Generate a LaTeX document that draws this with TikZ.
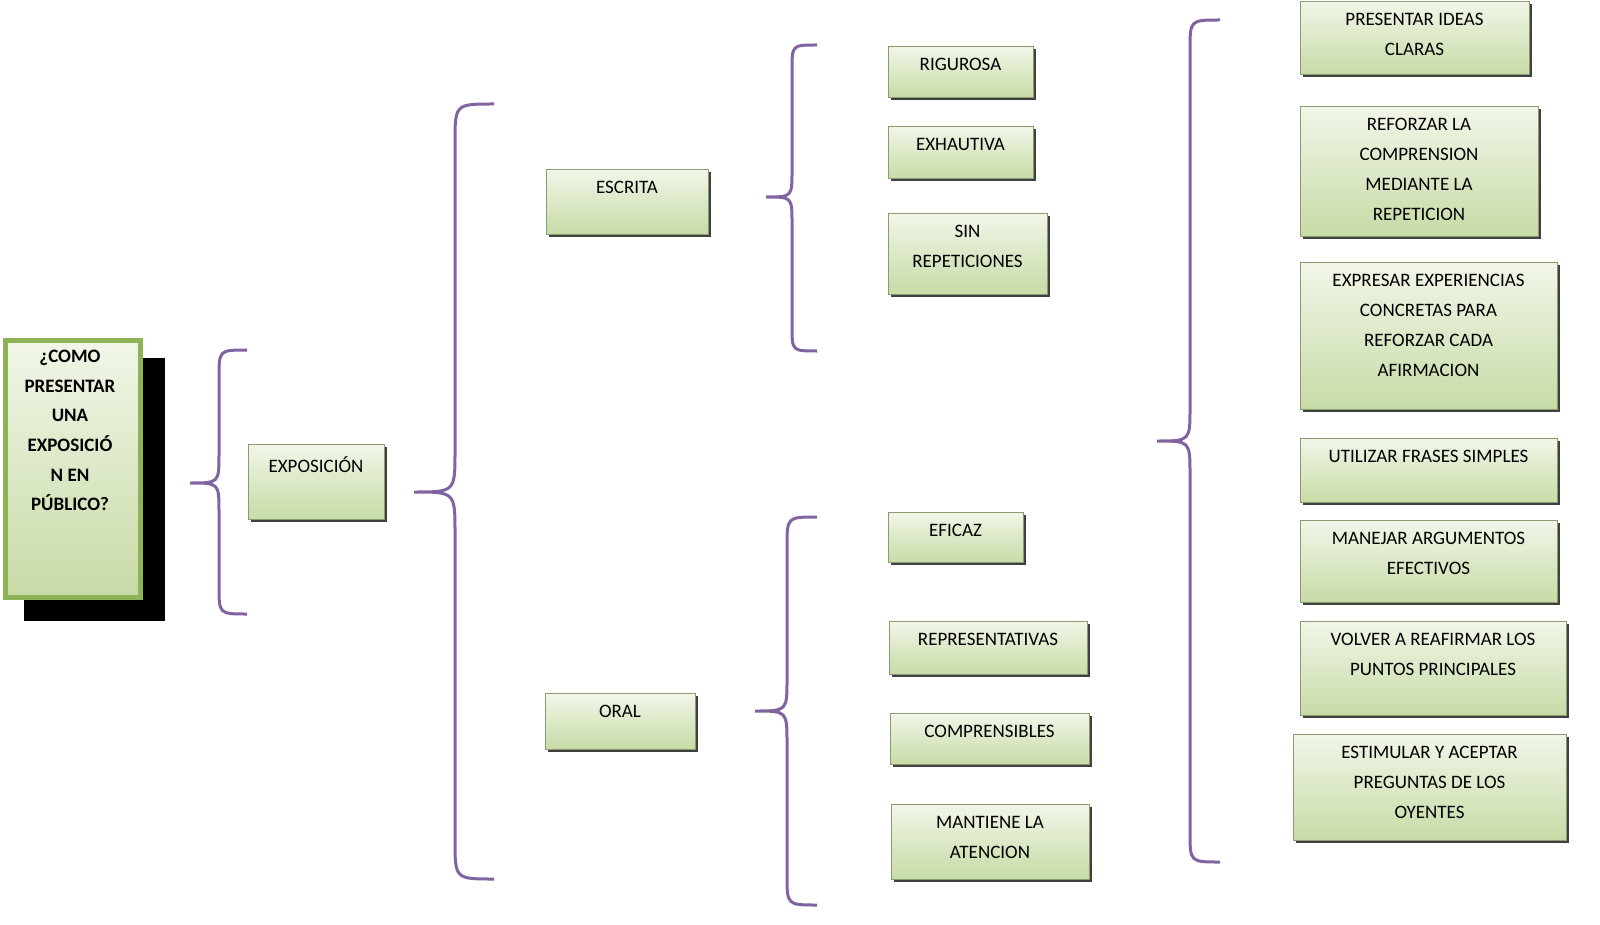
\documentclass[tikz,border=0pt]{standalone}
\usepackage{fontspec}
\setmainfont{Carlito}
\usetikzlibrary{shadows}
\definecolor{bpurple}{HTML}{8064A2}
\definecolor{gtop}{HTML}{F1F6E8}
\definecolor{gbot}{HTML}{C7DBA6}
\definecolor{gline}{HTML}{8A9A72}
\definecolor{mgreen}{HTML}{8DB356}
\tikzset{
 box/.style={draw=gline, line width=0.8pt, top color=gtop, bottom color=gbot, inner sep=0pt, anchor=north west,
   drop shadow={shadow xshift=2.5pt, shadow yshift=-2.5pt, fill=black!75, opacity=1}},
 txt/.style={anchor=north, align=center, inner sep=0pt, font=\fontsize{19}{30}\selectfont},
 brc/.style={draw=bpurple, line width=3pt}
}
\newcommand\bx[6]{% name, x1,y1,x2,y2, text
 \node[box, minimum width={#4-#2}, minimum height={#5-#3}] (#1) at (#2,#3) {};
 \node[txt] (#1t) at ({(#2+#4)/2},{#3+12}) {#6};}
\newcommand\mybrace[6]{% tipx, linex, pointx, top, mid, bottom
 \draw[brc] (#1,#4) .. controls (#2,#4) .. (#2,{#4+#1-#2}) -- (#2,{#5-(#2-#3)}) .. controls (#2,#5) .. (#3,#5)
   .. controls (#2,#5) .. (#2,{#5+(#2-#3)}) -- (#2,{#6-(#1-#2)}) .. controls (#2,#6) .. (#1,#6);}
\begin{document}
\begin{tikzpicture}[x=1pt,y=-1pt]
% main
\fill[black] (24,358) rectangle (165,621);
\node[draw=mgreen, line width=5pt, top color=gtop, bottom color=gbot, minimum width=135pt, minimum height=257pt, anchor=north west, inner sep=0pt] (main) at (2.5,337.5) {};
\node[txt, font=\bfseries\fontsize{19}{29.6}\selectfont] (maint) at (70,350) {¿COMO\\PRESENTAR\\UNA\\EXPOSICIÓ\\N EN\\PÚBLICO?};
\bx{expo}{248}{444}{384}{519}{EXPOSICIÓN}
\bx{escr}{546}{169}{708}{234}{ESCRITA}
\bx{oral}{545}{693}{695}{749}{ORAL}
\bx{rig}{888}{46}{1033}{97}{RIGUROSA}
\bx{exh}{888}{126}{1033}{178}{EXHAUTIVA}
\bx{sin}{888}{213}{1047}{294}{SIN\\REPETICIONES}
\bx{efi}{888}{512}{1023}{562}{EFICAZ}
\bx{rep}{889}{621}{1087}{674}{REPRESENTATIVAS}
\bx{com}{890}{713}{1089}{764}{COMPRENSIBLES}
\bx{man}{891}{804}{1089}{879}{MANTIENE LA\\ATENCION}
\bx{p1}{1300}{1}{1529}{74}{PRESENTAR IDEAS\\CLARAS}
\bx{p2}{1300}{106}{1538}{236}{REFORZAR LA\\COMPRENSION\\MEDIANTE LA\\REPETICION}
\bx{p3}{1300}{262}{1557}{409}{EXPRESAR EXPERIENCIAS\\CONCRETAS PARA\\REFORZAR CADA\\AFIRMACION}
\bx{p4}{1300}{438}{1557}{502}{UTILIZAR FRASES SIMPLES}
\bx{p5}{1300}{520}{1557}{602}{MANEJAR ARGUMENTOS\\EFECTIVOS}
\bx{p6}{1300}{621}{1566}{715}{VOLVER A REAFIRMAR LOS\\PUNTOS PRINCIPALES}
\bx{p7}{1293}{734}{1566}{840}{ESTIMULAR Y ACEPTAR\\PREGUNTAS DE LOS\\OYENTES}
% braces
\mybrace{247}{219}{190}{350}{483}{614}
\mybrace{494}{455}{414}{104}{492}{879}
\mybrace{817}{792}{766}{45}{197}{351}
\mybrace{817}{787}{755}{517}{711}{905}
\mybrace{1220}{1190}{1157}{20}{441}{862}
\pgfresetboundingbox
\useasboundingbox (0,0) rectangle (1600,925);
\end{tikzpicture}
\end{document}
